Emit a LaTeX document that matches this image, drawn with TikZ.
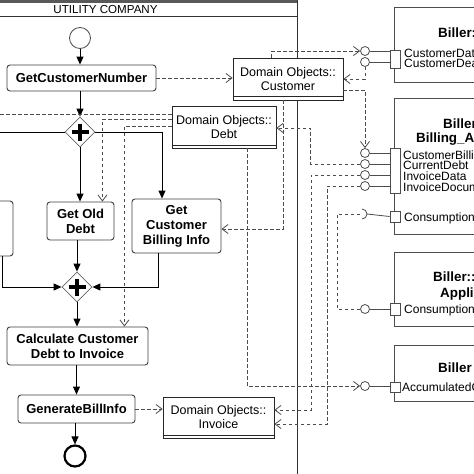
\documentclass[tikz,border=0pt]{standalone}
\usepackage{fontspec}
\setmainfont{Liberation Sans}
\usetikzlibrary{arrows.meta,shapes.geometric,calc}
\tikzset{
 act/.style={draw=black!75, rounded corners=3pt, fill=white, line width=0.9pt, inner sep=0pt, align=center, font=\fontsize{13}{15}\selectfont\bfseries},
 obj/.style={draw=black!85, fill=white, line width=0.8pt, inner sep=0pt, align=center, font=\fontsize{12.5}{14}\selectfont},
 comp/.style={draw=black!70, line width=0.8pt, inner sep=0pt, anchor=north west},
 portbox/.style={draw=black!70, fill=white, line width=0.8pt, inner sep=0pt},
 lolli/.style={circle, draw=black!70, fill=white, line width=0.8pt, minimum size=9pt, inner sep=0pt},
 gate/.style={diamond, draw=black!60, fill=white, line width=0.8pt, minimum width=30pt, minimum height=30pt, inner sep=0pt},
 flow/.style={draw=black, line width=1pt, -{Triangle[length=8pt,width=7pt]}},
 plain/.style={draw=black, line width=1pt},
 solidc/.style={draw=black!70, line width=0.8pt},
 dep/.style={draw=black!70, line width=0.8pt, dash pattern=on 3.5pt off 2.5pt, -{Straight Barb[length=6pt,width=9pt]}},
 depn/.style={draw=black!70, line width=0.8pt, dash pattern=on 3.5pt off 2.5pt},
 plbl/.style={anchor=base west, inner sep=0pt, font=\fontsize{12}{12}\selectfont},
 ttl/.style={anchor=base west, inner sep=0pt, font=\fontsize{13.4}{14}\selectfont\bfseries},
 plus/.style={draw=black, line width=3.2pt},
}
\begin{document}
\begin{tikzpicture}[x=1pt,y=-1pt]
\useasboundingbox (0,0) rectangle (474,474);
\clip (0,0) rectangle (474,474);
\fill[white] (0,0) rectangle (474,474);
% pool
\fill[black!65] (0,0) rectangle (297,2.5);
\draw[black!80, line width=0.8pt] (0,16) -- (297,16);
\draw[black!80, line width=0.8pt] (297,0) -- (297,474);
\node[inner sep=0pt, font=\fontsize{11.6}{12}\selectfont] (hdr) at (105.5,10) {UTILITY COMPANY};
% components
\node[comp, minimum width=130pt, minimum height=75pt] (b1) at (394,7) {};
\node[comp, minimum width=130pt, minimum height=136pt] (b2) at (394,98) {};
\node[comp, minimum width=130pt, minimum height=74pt] (b3) at (394,252) {};
\node[comp, minimum width=130pt, minimum height=56pt] (b4) at (394,345) {};
\node[ttl] (t1) at (438,37) {Biller::};
\node[ttl] (t2a) at (443,128) {Biller::};
\node[ttl] (t2b) at (416,142) {Billing\_Application};
\node[ttl] (t3a) at (433,281) {Biller::};
\node[ttl] (t3b) at (440,297) {Application};
\node[ttl] (t4) at (438,372) {Biller};
% ports
\node[portbox, minimum width=10pt, minimum height=18pt] (p1) at (395,59) {};
\node[portbox, minimum width=10pt, minimum height=45pt] (p2) at (395,170.5) {};
\node[portbox, minimum width=10pt, minimum height=11pt] (p2c) at (395,216.5) {};
\node[portbox, minimum width=10pt, minimum height=12pt] (p3) at (395,309) {};
\node[portbox, minimum width=10pt, minimum height=10pt] (p4) at (395,387) {};
\node[plbl] (l1a) at (404,57.5) {CustomerData};
\node[plbl] (l1b) at (404,67.5) {CustomerDeactivation};
\node[plbl] (l2a) at (403,159) {CustomerBillingInfo};
\node[plbl] (l2b) at (403,169.5) {CurrentDebt};
\node[plbl] (l2c) at (403,180.5) {InvoiceData};
\node[plbl] (l2d) at (403,191) {InvoiceDocument};
\node[plbl] (l2e) at (404,221) {Consumption};
\node[plbl] (l3) at (404,313.5) {Consumption};
\node[plbl] (l4) at (402,391.5) {AccumulatedConsumption};
% lollipops
\node[lolli] (c1a) at (365,51) {};
\node[lolli] (c1b) at (365,62) {};
\node[lolli] (c2a) at (365,153) {};
\node[lolli] (c2b) at (365,164) {};
\node[lolli] (c2c) at (365,175) {};
\node[lolli] (c2d) at (365,186) {};
\node[lolli] (c3) at (365,309) {};
\node[lolli] (c4) at (365,386) {};
\coordinate (s2) at (367,214);
\foreach \c/\p in {c1a/p1,c1b/p1,c2a/p2,c2b/p2,c2c/p2,c2d/p2,c3/p3,c4/p4}
  \draw[solidc] (\c.east) -- (\c.east -| \p.west);
\draw[solidc] (s2) -- (p2c.west);
\draw[solidc] (362,209) arc[start angle=-90, end angle=90, radius=5];
% domain objects
\node[obj, minimum width=110pt, minimum height=42pt] (cust) at (288,79) {Domain Objects::\\Customer};
\draw[black!85, line width=0.8pt] ($(cust.south west)+(0,-4)$) -- ($(cust.south east)+(0,-4)$);
\node[obj, minimum width=104pt, minimum height=42pt] (debt) at (224,127) {Domain Objects::\\Debt};
\draw[black!85, line width=0.8pt] ($(debt.south west)+(0,-3.5)$) -- ($(debt.south east)+(0,-3.5)$);
\node[obj, minimum width=111pt, minimum height=41pt] (inv) at (218.5,417.5) {Domain Objects::\\Invoice};
\draw[black!85, line width=0.8pt] ($(inv.south west)+(0,-3.5)$) -- ($(inv.south east)+(0,-3.5)$);
% activities
\node[circle, draw=black!70, line width=0.8pt, minimum size=21pt, inner sep=0pt] (start) at (80,38) {};
\node[act, minimum width=149pt, minimum height=26pt] (gcn) at (81.5,78) {GetCustomerNumber};
\node[gate] (gw1) at (80,132) {};
\draw[plus] ($(gw1)+(-8.5,0)$) -- ($(gw1)+(8.5,0)$) ($(gw1)+(0,-8.5)$) -- ($(gw1)+(0,8.5)$);
\node[act, minimum width=67pt, minimum height=38pt] (god) at (80.5,221) {Get Old\\Debt};
\node[act, minimum width=89pt, minimum height=54pt] (gcb) at (176.5,226) {Get\\Customer\\Billing Info};
\node[act, minimum width=33pt, minimum height=55pt] (lb) at (-3.5,228.5) {};
\node[gate] (gw2) at (77,287) {};
\draw[plus] ($(gw2)+(-8.5,0)$) -- ($(gw2)+(8.5,0)$) ($(gw2)+(0,-8.5)$) -- ($(gw2)+(0,8.5)$);
\node[act, minimum width=141pt, minimum height=38pt] (calc) at (77.5,346) {Calculate Customer\\Debt to Invoice};
\node[act, minimum width=117pt, minimum height=28pt] (gbi) at (76.5,409) {GenerateBillInfo};
\node[circle, draw=black, line width=2.2pt, minimum size=21pt, inner sep=0pt] (end) at (75,456) {};
% flows
\draw[flow] (start.south) -- (start.south |- gcn.north);
\draw[flow] (gcn.south -| gw1.north) -- (gw1.north);
\draw[plain] (gw1.west) -- ++(-80,0);
\draw[flow] (gw1.east) -| ($(gcb.north)+(-14.5,0)$);
\draw[flow] (gw1.south) -- (gw1.south |- god.north);
\draw[flow] (gw2.north |- god.south) -- (gw2.north);
\draw[flow] ($(lb.south east)+(-11,0)$) |- (gw2.west);
\draw[flow] ($(gcb.south)+(-18.5,0)$) |- (gw2.east);
\draw[flow] (gw2.south) -- (gw2.south |- calc.north);
\draw[flow] (gbi.north |- calc.south) -- (gbi.north);
\draw[flow] (end.north |- gbi.south) -- (end.north);
% dependencies
\draw[dep] (gcn.east) -- (gcn.east -| cust.west);
\draw[dep] ($(cust.north west)+(39,0)$) |- (c1a.west);
\draw[dep] (c1b.south) |- (cust.east);
\draw[dep] ($(cust.east)+(0,11)$) -| (c2a.north);
\draw[depn] ($(debt.west)+(0,-13)$) -- ++(-190,0);
\draw[dep] ($(debt.west)+(0,-8)$) -| ($(god.north east)+(-12,0)$);
\draw[dep] ($(debt.west)+(0,-1)$) -| ($(calc.north east)+(-24,0)$);
\draw[dep] ($(debt.south)+(23,0)$) |- (c4.west);
\draw[dep] (c2b.west) -| ($(debt.east)+(34,1)$) -- ($(debt.east)+(0,1)$);
\draw[dep] ($(cust.south)+(-5,0)$) |- ($(gcb.east)+(0,3)$);
\draw[dep] (c2c.west) -| ($(inv.east)+(36.5,-7.5)$) -- ($(inv.east)+(0,-7.5)$);
\draw[dep] (c2d.west) -| ($(inv.east)+(53,6.5)$) -- ($(inv.east)+(0,6.5)$);
\draw[depn] (c3.west) -| ($(s2)+(-30,0)$) -- ($(s2)+(-5,0)$);
\draw[dep] (gbi.east) -- (gbi.east -| inv.west);
\end{tikzpicture}
\end{document}
